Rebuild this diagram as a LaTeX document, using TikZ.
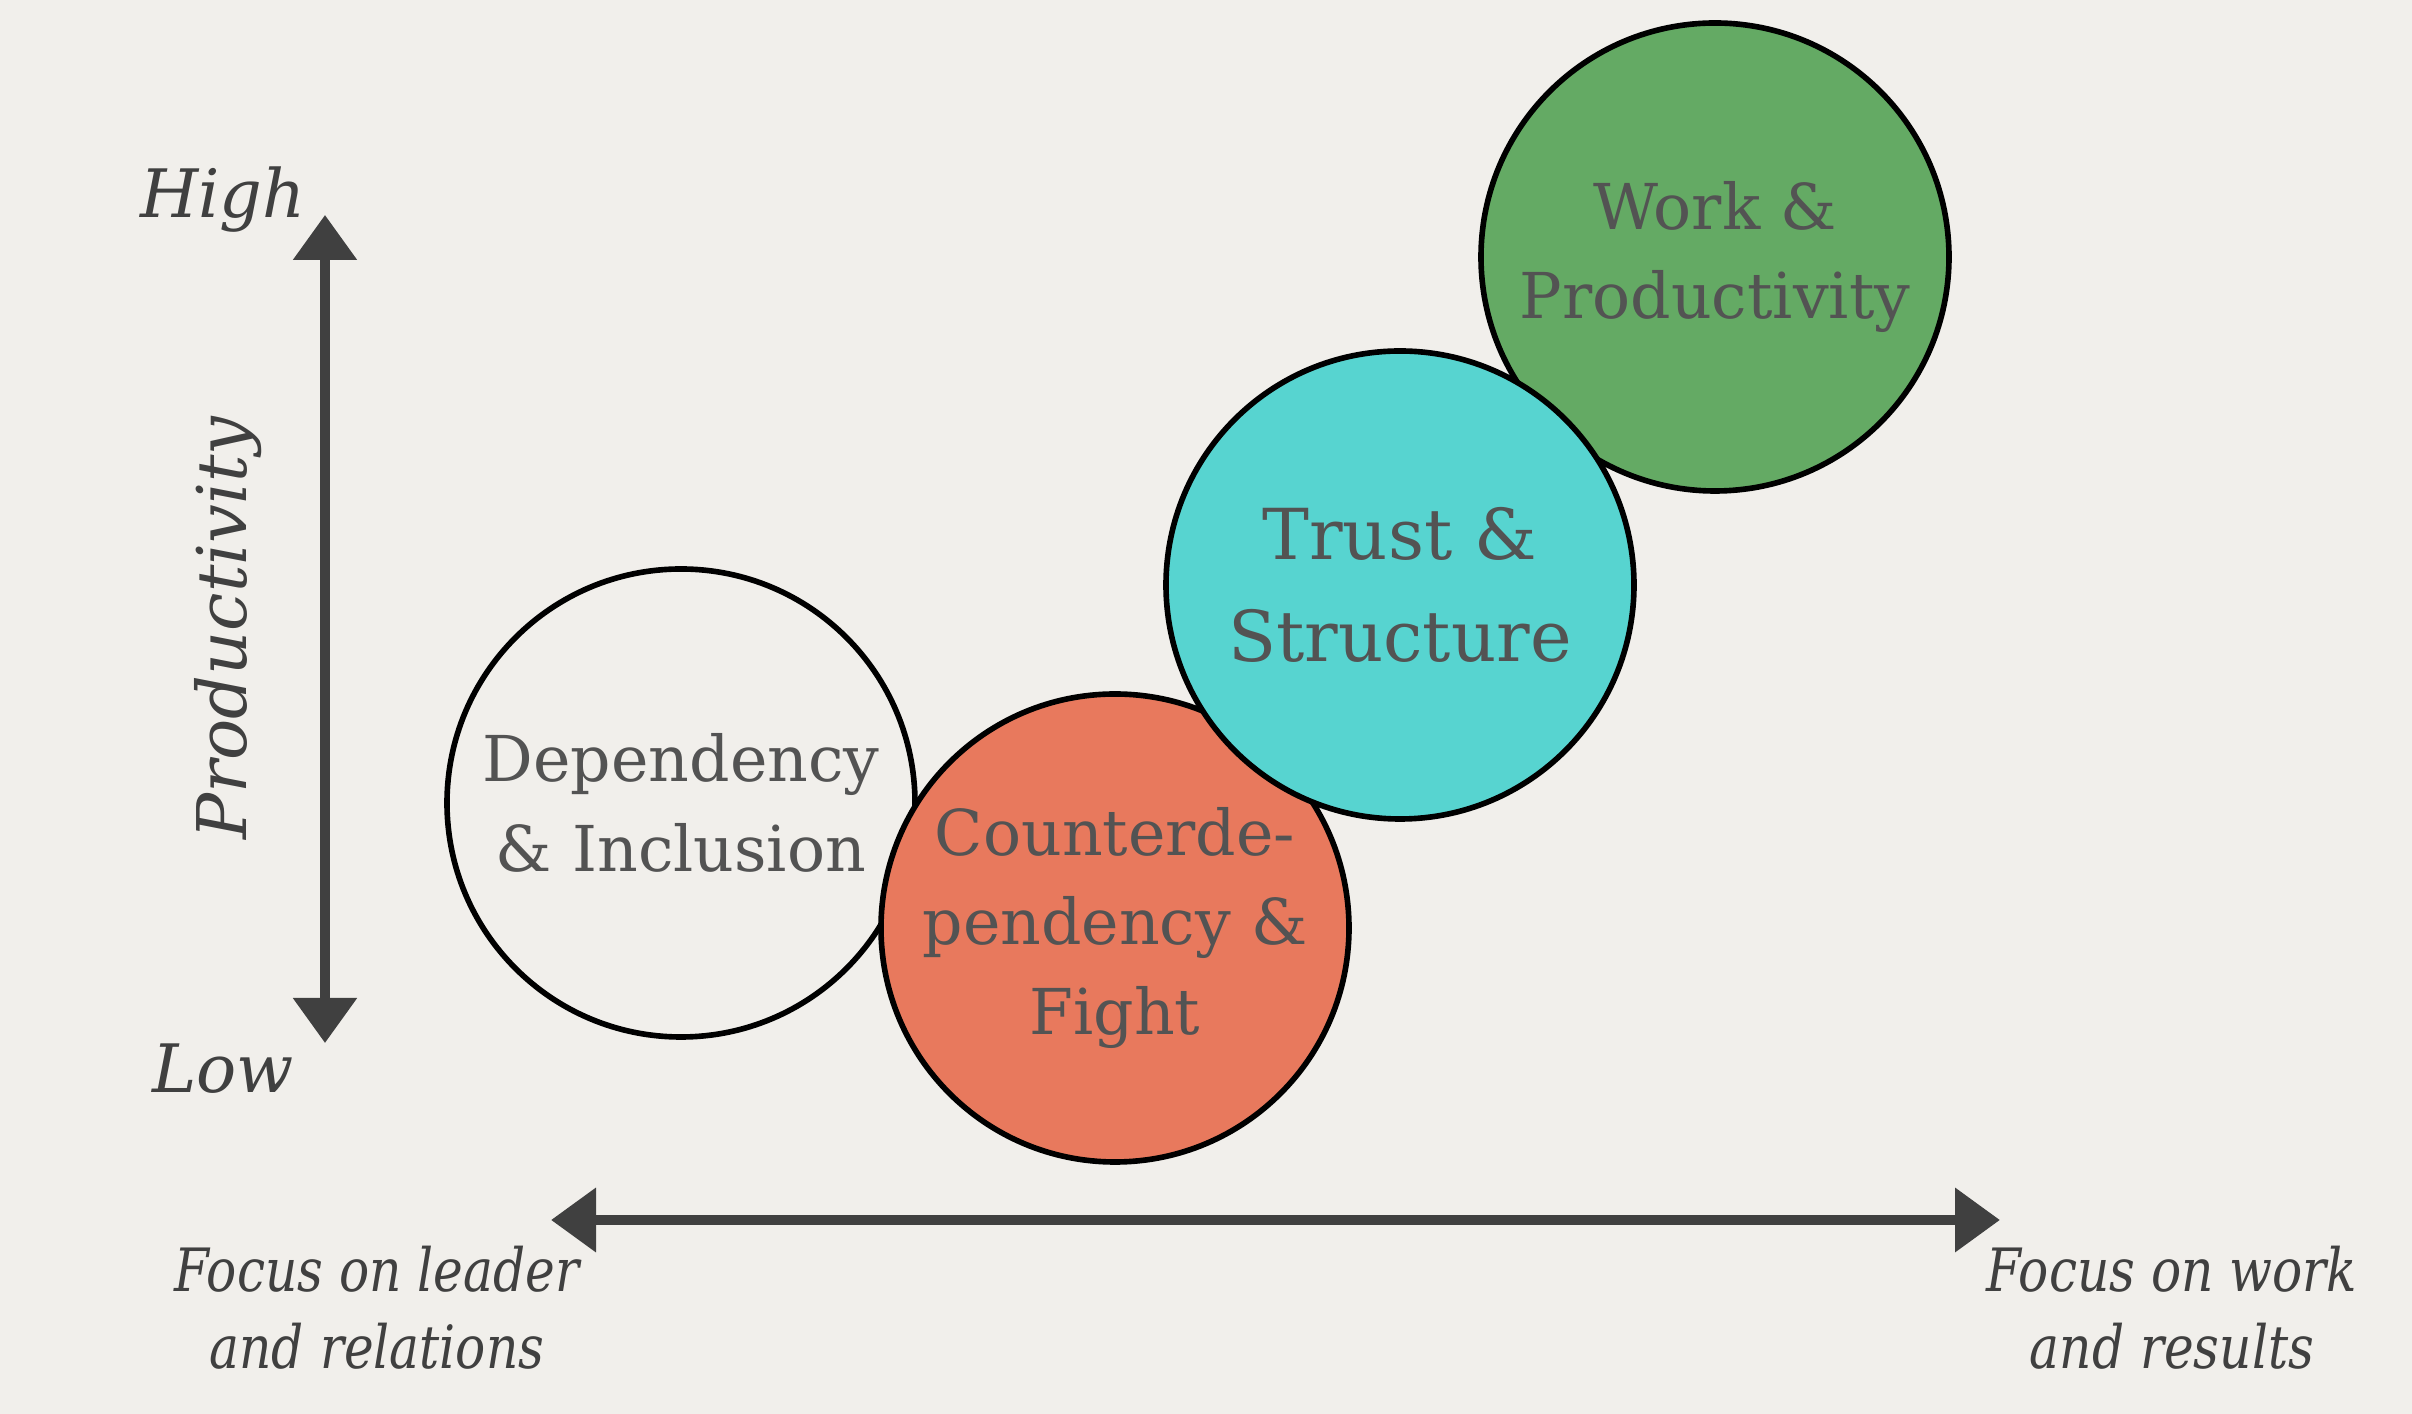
\documentclass[tikz,border=0pt]{standalone}
\usepackage{fontspec}
\setmainfont{DejaVu Serif}
\usetikzlibrary{arrows.meta}
\definecolor{paper}{RGB}{241,239,235}
\definecolor{ink}{RGB}{64,64,64}
\definecolor{fightred}{RGB}{232,121,93}
\definecolor{trustcyan}{RGB}{87,212,208}
\definecolor{workgreen}{RGB}{100,170,100}
\tikzset{
  stage/.style={circle, draw=black, line width=1.6pt, minimum size=4.68cm, inner sep=0pt, align=center, text=ink!90, font=\fontsize{18}{25.5}\selectfont},
  axis/.style={draw=ink, line width=2.6pt, {Triangle[width=0.62cm,length=0.45cm]}-{Triangle[width=0.62cm,length=0.45cm]}},
  axislabel/.style={text=ink, font=\itshape\fontsize{19}{22}\selectfont},
  focuslabel/.style={text=ink, align=center, xscale=0.84, font=\itshape\fontsize{17}{22}\selectfont}
}
\begin{document}
\begin{tikzpicture}
  \useasboundingbox[fill=paper] (0,0) rectangle (24.12,14.14);
  \node[stage] (dep) at (6.81,6.11) {Dependency\\\& Inclusion};
  \node[stage, fill=fightred] (fight) at (11.15,4.86) {Counterde-\\pendency \&\\Fight};
  \node[stage, fill=workgreen] (work) at (17.15,11.57) {Work \&\\Productivity};
  \node[stage, fill=trustcyan, font=\fontsize{20}{29}\selectfont] (trust) at (14.00,8.29) {Trust \&\\Structure};
  \coordinate (top) at (3.25,11.99);
  \coordinate (bottom) at (3.25,3.71);
  \coordinate (left) at (5.51,1.94);
  \coordinate (right) at (20.0,1.94);
  \draw[axis] (bottom) -- (top);
  \draw[axis, line width=3pt] (left) -- (right);
  \node[axislabel] (high) at (2.23,12.14) {High};
  \node[axislabel] (low) at (2.23,3.45) {Low};
  \node[axislabel, rotate=90, font=\itshape\fontsize{19.5}{24}\selectfont] (prod) at (2.28,7.86) {Productivity};
  \node[focuslabel] (leader) at (3.77,1.06) {Focus on leader\\and relations};
  \node[focuslabel] (results) at (21.72,1.06) {Focus on work\\and results};
\end{tikzpicture}
\end{document}
